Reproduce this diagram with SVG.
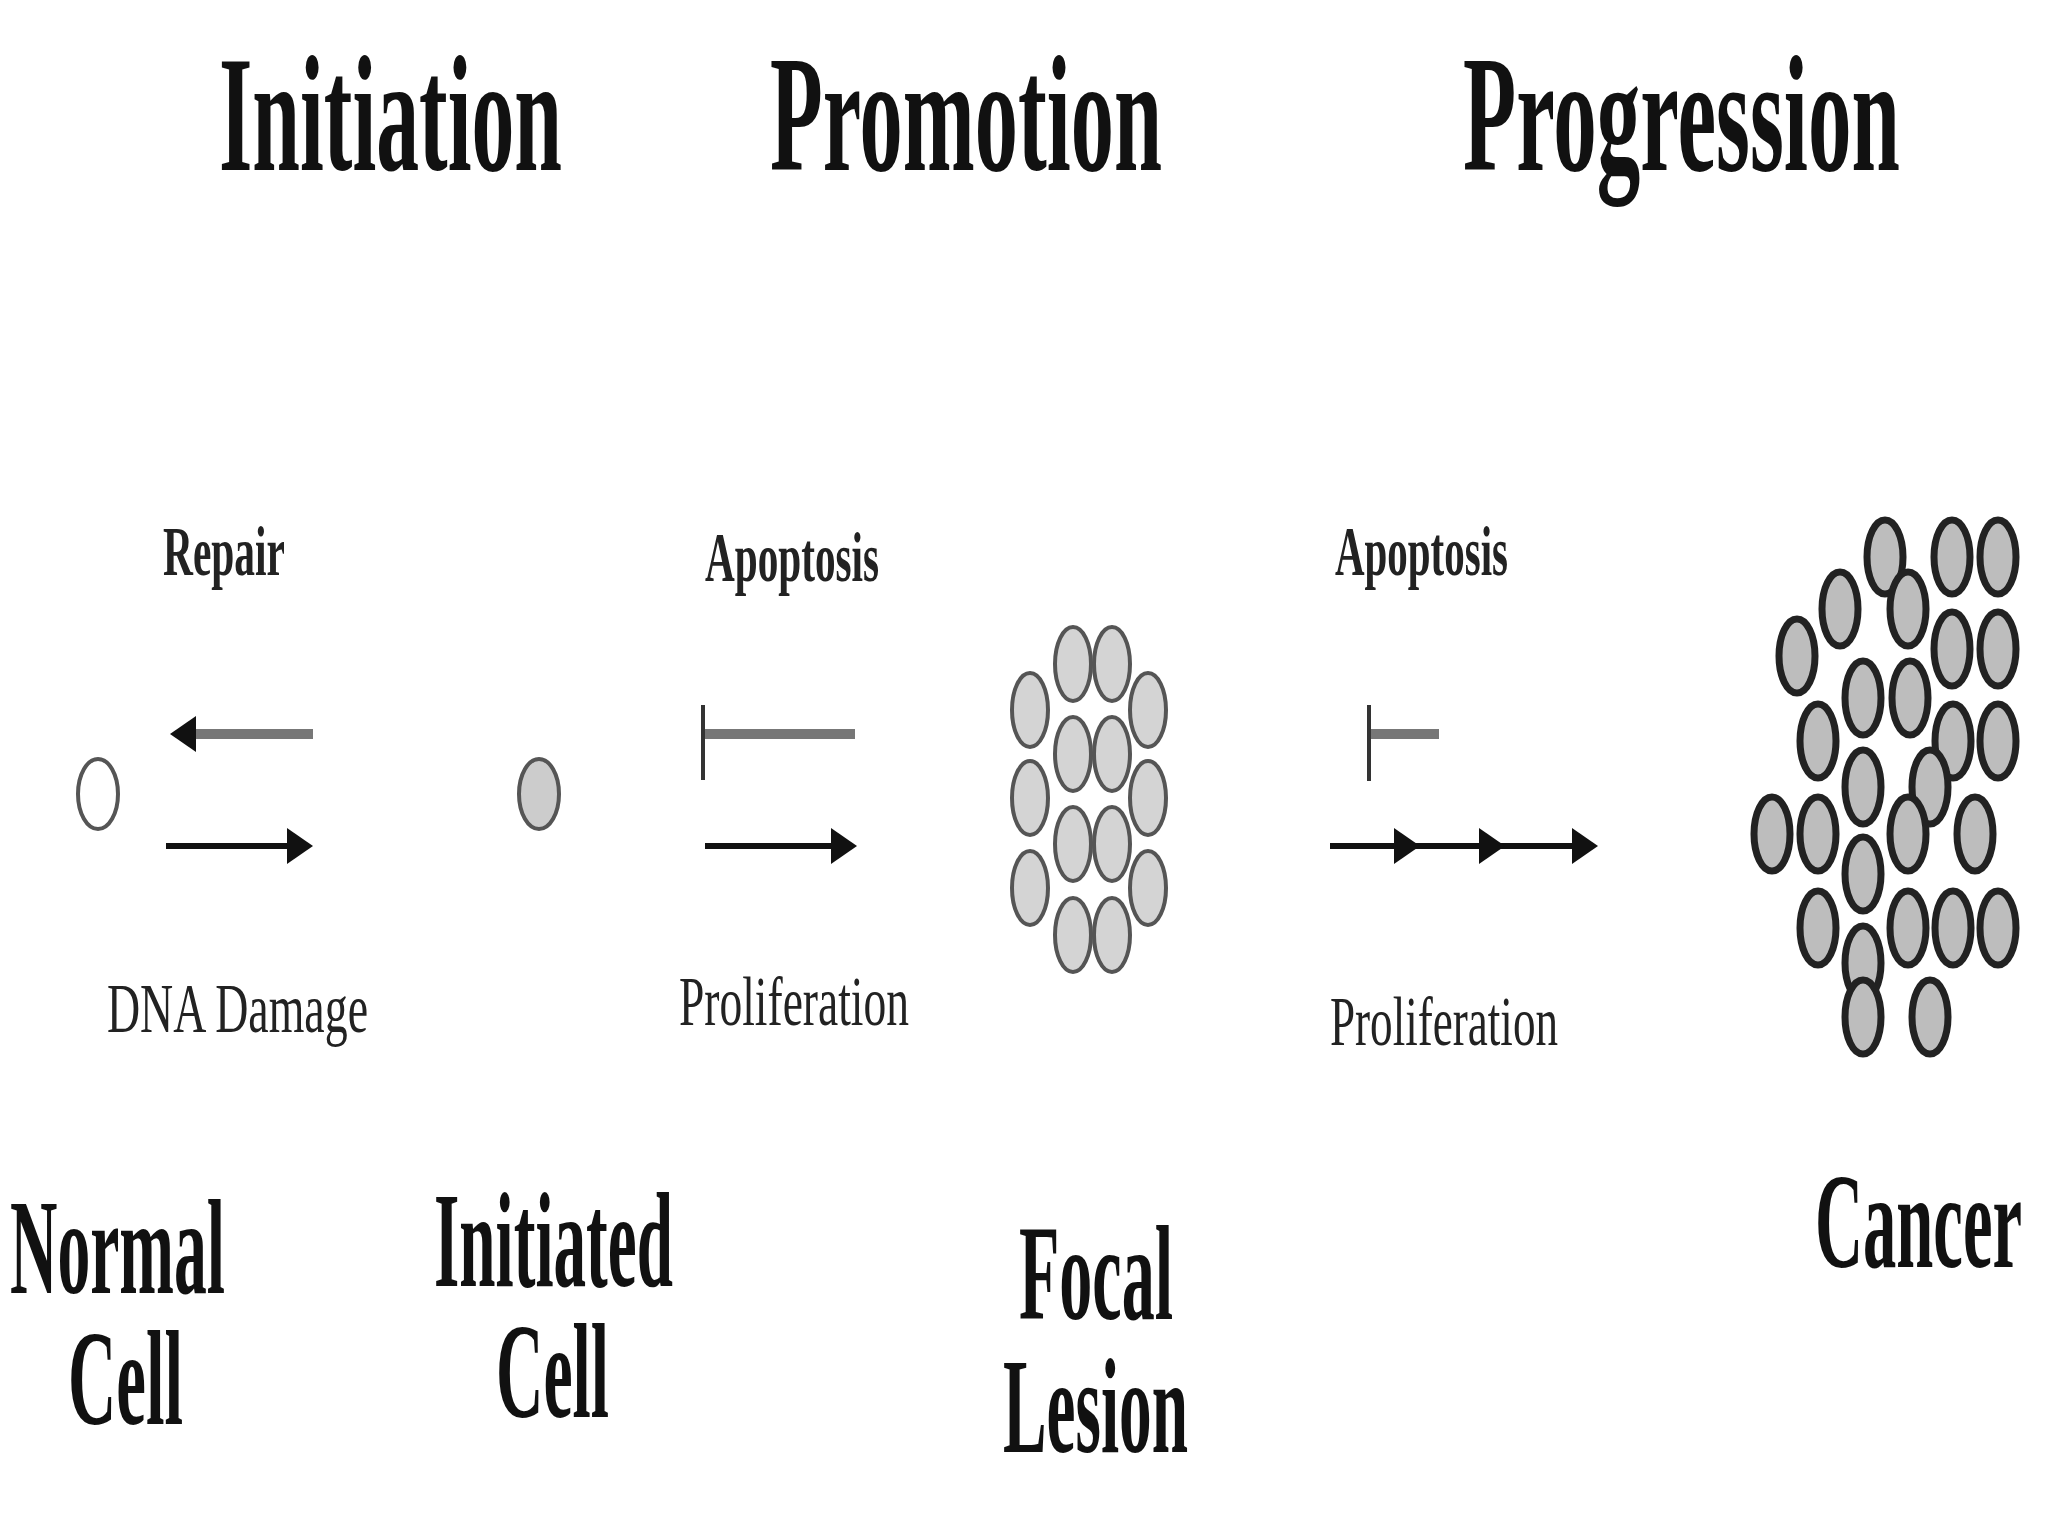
<svg xmlns="http://www.w3.org/2000/svg" width="2048" height="1536" viewBox="0 0 2048 1536">
<defs>
<style>
.t{font-family:"Liberation Serif",serif;font-weight:bold;fill:#111}
.h{font-size:165px}
.b{font-size:135px}
.s{font-family:"Liberation Serif",serif;font-size:70px;fill:#222}
.lw{font-weight:bold}
.fc{fill:#d4d4d4;stroke:#555;stroke-width:4}
.cc{fill:#bdbdbd;stroke:#222;stroke-width:7}
.ga{stroke:#777;stroke-width:10;fill:none}
.ba{stroke:#111;stroke-width:6;fill:none}
</style>
</defs>
<rect width="2048" height="1536" fill="#fff"/>
<g id="titles">
<text class="t h" x="219" y="170" textLength="343" lengthAdjust="spacingAndGlyphs">Initiation</text>
<text class="t h" x="770" y="170" textLength="392" lengthAdjust="spacingAndGlyphs">Promotion</text>
<text class="t h" x="1463" y="170" textLength="437" lengthAdjust="spacingAndGlyphs">Progression</text>
</g>
<g id="normal-cell">
<ellipse cx="98" cy="794" rx="20" ry="35" fill="#fff" stroke="#555" stroke-width="4"/>
<text class="t b" x="10" y="1293" textLength="215" lengthAdjust="spacingAndGlyphs">Normal</text>
<text class="t b" x="68" y="1424" textLength="115" lengthAdjust="spacingAndGlyphs">Cell</text>
</g>
<g id="initiated-cell">
<ellipse cx="539" cy="794" rx="20" ry="35" fill="#ccc" stroke="#555" stroke-width="4"/>
<text class="t b" x="434" y="1286" textLength="239" lengthAdjust="spacingAndGlyphs">Initiated</text>
<text class="t b" x="496" y="1417" textLength="113" lengthAdjust="spacingAndGlyphs">Cell</text>
</g>
<g id="focal-lesion">
<ellipse class="fc" cx="1030" cy="710" rx="18" ry="37"/>
<ellipse class="fc" cx="1030" cy="798" rx="18" ry="37"/>
<ellipse class="fc" cx="1030" cy="888" rx="18" ry="37"/>
<ellipse class="fc" cx="1073" cy="664" rx="18" ry="37"/>
<ellipse class="fc" cx="1073" cy="754" rx="18" ry="37"/>
<ellipse class="fc" cx="1073" cy="844" rx="18" ry="37"/>
<ellipse class="fc" cx="1073" cy="935" rx="18" ry="37"/>
<ellipse class="fc" cx="1112" cy="664" rx="18" ry="37"/>
<ellipse class="fc" cx="1112" cy="754" rx="18" ry="37"/>
<ellipse class="fc" cx="1112" cy="844" rx="18" ry="37"/>
<ellipse class="fc" cx="1112" cy="935" rx="18" ry="37"/>
<ellipse class="fc" cx="1148" cy="710" rx="18" ry="37"/>
<ellipse class="fc" cx="1148" cy="798" rx="18" ry="37"/>
<ellipse class="fc" cx="1148" cy="888" rx="18" ry="37"/>
<text class="t b" x="1019" y="1319" textLength="154" lengthAdjust="spacingAndGlyphs">Focal</text>
<text class="t b" x="1003" y="1452" textLength="185" lengthAdjust="spacingAndGlyphs">Lesion</text>
</g>
<g id="cancer">
<ellipse class="cc" cx="1885" cy="557" rx="18" ry="37"/>
<ellipse class="cc" cx="1952" cy="557" rx="18" ry="37"/>
<ellipse class="cc" cx="1998" cy="557" rx="18" ry="37"/>
<ellipse class="cc" cx="1840" cy="609" rx="18" ry="37"/>
<ellipse class="cc" cx="1908" cy="609" rx="18" ry="37"/>
<ellipse class="cc" cx="1797" cy="656" rx="18" ry="37"/>
<ellipse class="cc" cx="1952" cy="649" rx="18" ry="37"/>
<ellipse class="cc" cx="1998" cy="649" rx="18" ry="37"/>
<ellipse class="cc" cx="1863" cy="698" rx="18" ry="37"/>
<ellipse class="cc" cx="1910" cy="698" rx="18" ry="37"/>
<ellipse class="cc" cx="1818" cy="741" rx="18" ry="37"/>
<ellipse class="cc" cx="1953" cy="741" rx="18" ry="37"/>
<ellipse class="cc" cx="1998" cy="741" rx="18" ry="37"/>
<ellipse class="cc" cx="1863" cy="787" rx="18" ry="37"/>
<ellipse class="cc" cx="1930" cy="787" rx="18" ry="37"/>
<ellipse class="cc" cx="1772" cy="834" rx="18" ry="37"/>
<ellipse class="cc" cx="1818" cy="834" rx="18" ry="37"/>
<ellipse class="cc" cx="1908" cy="834" rx="18" ry="37"/>
<ellipse class="cc" cx="1975" cy="834" rx="18" ry="37"/>
<ellipse class="cc" cx="1863" cy="874" rx="18" ry="37"/>
<ellipse class="cc" cx="1818" cy="928" rx="18" ry="37"/>
<ellipse class="cc" cx="1908" cy="928" rx="18" ry="37"/>
<ellipse class="cc" cx="1953" cy="928" rx="18" ry="37"/>
<ellipse class="cc" cx="1998" cy="928" rx="18" ry="37"/>
<ellipse class="cc" cx="1863" cy="963" rx="18" ry="37"/>
<ellipse class="cc" cx="1863" cy="1017" rx="18" ry="37"/>
<ellipse class="cc" cx="1930" cy="1017" rx="18" ry="37"/>
<text class="t b" x="1815" y="1267" textLength="207" lengthAdjust="spacingAndGlyphs">Cancer</text>
</g>
<g id="connectors">
<line class="ga" x1="313" y1="734" x2="185" y2="734"/>
<path d="M170,734 L196,716 L196,752 z" fill="#111"/>
<line class="ba" x1="166" y1="846" x2="300" y2="846"/>
<path d="M313,846 L287,828 L287,864 z" fill="#111"/>
<line class="ga" x1="703" y1="734" x2="855" y2="734"/>
<line x1="703" y1="705" x2="703" y2="780" stroke="#333" stroke-width="4"/>
<line class="ba" x1="705" y1="846" x2="842" y2="846"/>
<path d="M857,846 L831,828 L831,864 z" fill="#111"/>
<line class="ga" x1="1369" y1="734" x2="1439" y2="734"/>
<line x1="1369" y1="705" x2="1369" y2="781" stroke="#333" stroke-width="4"/>
<line class="ba" x1="1330" y1="846" x2="1585" y2="846"/>
<path d="M1420,846 L1394,828 L1394,864 z" fill="#111"/>
<path d="M1505,846 L1479,828 L1479,864 z" fill="#111"/>
<path d="M1598,846 L1572,828 L1572,864 z" fill="#111"/>
</g>
<g id="labels">
<text class="s lw" x="163" y="575" textLength="122" lengthAdjust="spacingAndGlyphs">Repair</text>
<text class="s lw" x="705" y="581" textLength="174" lengthAdjust="spacingAndGlyphs">Apoptosis</text>
<text class="s lw" x="1335" y="575" textLength="173" lengthAdjust="spacingAndGlyphs">Apoptosis</text>
<text class="s" x="107" y="1032" textLength="261" lengthAdjust="spacingAndGlyphs">DNA Damage</text>
<text class="s" x="679" y="1025" textLength="230" lengthAdjust="spacingAndGlyphs">Proliferation</text>
<text class="s" x="1330" y="1045" textLength="228" lengthAdjust="spacingAndGlyphs">Proliferation</text>
</g>
</svg>
